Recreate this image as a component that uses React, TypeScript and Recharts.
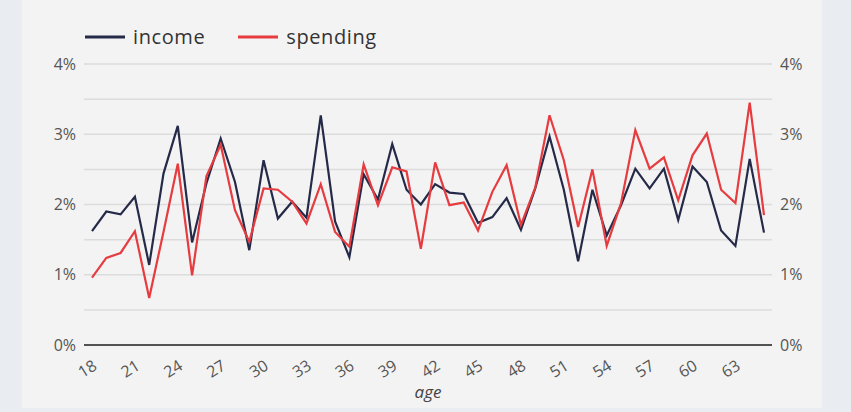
import { LineChart, Line, XAxis, YAxis, CartesianGrid } from 'recharts';

const ages = [
  18, 19, 20, 21, 22, 23, 24, 25, 26, 27, 28, 29, 30, 31, 32, 33, 34, 35, 36, 37, 38, 39, 40, 41,
  42, 43, 44, 45, 46, 47, 48, 49, 50, 51, 52, 53, 54, 55, 56, 57, 58, 59, 60, 61, 62, 63, 64, 65,
];

const income = [
  1.62, 1.9, 1.86, 2.11, 1.14, 2.44, 3.12, 1.46, 2.3, 2.94, 2.32, 1.35, 2.63, 1.8, 2.04, 1.81,
  3.27, 1.76, 1.25, 2.43, 2.07, 2.86, 2.21, 2.0, 2.29, 2.17, 2.15, 1.74, 1.82, 2.09, 1.64, 2.23,
  2.97, 2.21, 1.19, 2.21, 1.56, 1.99, 2.51, 2.23, 2.51, 1.78, 2.54, 2.32, 1.63, 1.41, 2.65, 1.6,
];

const spending = [
  0.96, 1.24, 1.31, 1.62, 0.67, 1.61, 2.58, 0.99, 2.4, 2.85, 1.92, 1.47, 2.23, 2.21, 2.04, 1.73,
  2.29, 1.61, 1.4, 2.57, 1.99, 2.53, 2.47, 1.37, 2.6, 1.99, 2.03, 1.63, 2.18, 2.56, 1.71, 2.24,
  3.27, 2.63, 1.68, 2.5, 1.41, 2.02, 3.06, 2.51, 2.67, 2.06, 2.7, 3.01, 2.21, 2.02, 3.45, 1.85,
];

const yTicks = [0, 0.5, 1, 1.5, 2, 2.5, 3, 3.5, 4];

const series = [
  { key: 'income', color: '#252a48' },
  { key: 'spending', color: '#e63c40' },
];

const data = ages.map((age, i) => ({ age, income: income[i], spending: spending[i] }));

const FONT = "'Open Sans', 'Noto Sans', sans-serif";

const fmt = (v: number) => (Number.isInteger(v) ? `${v}%` : '');

export default function App() {
  const tickStyle = { fill: '#555', fontSize: 16, fontFamily: FONT };
  return (
    <>
      <div style={{ position: 'fixed', inset: 0, background: '#e9edf1' }} />
      <div style={{ position: 'absolute', left: 22, top: 0, width: 800, height: 408, background: '#f3f3f3' }}>
        {/* legend drawn as plain html so it does not eat plot space */}
        <div
          style={{
            position: 'absolute',
            left: 63,
            top: 23,
            display: 'flex',
            alignItems: 'center',
            fontFamily: FONT,
            fontSize: 20,
            letterSpacing: 0.6,
            color: '#333',
            zIndex: 1,
          }}
        >
          {series.map((s) => (
            <div key={s.key} style={{ display: 'flex', alignItems: 'center', marginRight: 33 }}>
              <svg width={40} height={4} style={{ marginRight: 8 }}>
                <line x1={0} y1={2} x2={40} y2={2} stroke={s.color} strokeWidth={3} />
              </svg>
              <span>{s.key}</span>
            </div>
          ))}
        </div>
        <LineChart width={800} height={408} data={data} margin={{ top: 64, right: 10, left: 12, bottom: 8 }}>
          <CartesianGrid yAxisId="left" vertical={false} stroke="#dcdcdc" strokeWidth={1.5} />
          <XAxis
            dataKey="age"
            interval={2}
            padding={{ left: 8, right: 8 }}
            tickLine={false}
            axisLine={{ stroke: '#222', strokeWidth: 1.5 }}
            angle={-32}
            textAnchor="end"
            height={55}
            tick={{ ...tickStyle, dy: 6 }}
            label={{ value: 'age', position: 'insideBottom', offset: 2, fill: '#444', fontSize: 17, fontStyle: 'italic', fontFamily: FONT }}
          />
          <YAxis
            yAxisId="left"
            domain={[0, 4]}
            ticks={yTicks}
            tickFormatter={fmt}
            axisLine={false}
            tickLine={false}
            width={50}
            tick={tickStyle}
          />
          <YAxis
            yAxisId="right"
            orientation="right"
            domain={[0, 4]}
            ticks={yTicks}
            tickFormatter={fmt}
            axisLine={false}
            tickLine={false}
            width={40}
            tick={tickStyle}
          />
          {series.map((s) => (
            <Line
              key={s.key}
              yAxisId="left"
              type="linear"
              dataKey={s.key}
              stroke={s.color}
              strokeWidth={2.2}
              dot={false}
              isAnimationActive={false}
            />
          ))}
          {/* invisible copy so the right axis has a series */}
          <Line
            yAxisId="right"
            dataKey="income"
            stroke="none"
            dot={false}
            activeDot={false}
            legendType="none"
            isAnimationActive={false}
          />
        </LineChart>
      </div>
    </>
  );
}
